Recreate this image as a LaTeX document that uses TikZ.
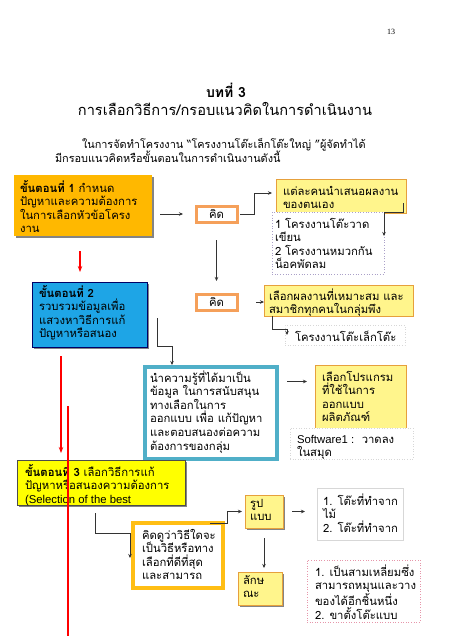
\documentclass[tikz,border=0pt]{standalone}
\usepackage{fontspec}
\setmainfont[Script=Thai]{Loma}
\newfontfamily\lsans{Liberation Sans}
\newfontfamily\lserif{Liberation Serif}
\usetikzlibrary{arrows.meta,shadows}
\definecolor{orangeA}{RGB}{255,184,0}
\definecolor{blueA}{RGB}{30,165,230}
\definecolor{yellowA}{RGB}{255,255,0}
\definecolor{lightY}{RGB}{255,245,140}
\definecolor{lightYb}{RGB}{230,160,60}
\definecolor{kidB}{RGB}{245,160,90}
\definecolor{cyanB}{RGB}{80,175,200}
\definecolor{goldB}{RGB}{255,190,20}
\definecolor{dotB}{RGB}{170,160,200}
\definecolor{faintB}{RGB}{215,215,215}
\definecolor{pinkB}{RGB}{230,150,170}
\newcommand\tx[4]{\node[txt] (#1) at (#2,#3) {\parbox[t]{220pt}{\raggedright\fontsize{11.3}{13.6}\selectfont #4}};}
\begin{document}
\begin{tikzpicture}[x=1pt,y=-1pt,
  every node/.style={inner sep=0pt,outer sep=0pt},
  txt/.style={anchor=base west,inner sep=0pt},
  bx/.style={anchor=north west,inner sep=0pt},
  shd/.style={drop shadow={shadow xshift=2pt,shadow yshift=-2pt,fill=black!60,opacity=0.8}},
  kid/.style={anchor=north west,draw=kidB,line width=3pt,fill=white,minimum width=41pt,minimum height=16pt,font=\fontsize{11.3}{12}\selectfont},
  ly/.style={anchor=north west,draw=lightYb,line width=0.7pt,fill=lightY},
  arr/.style={-{Stealth[length=4pt,width=3.5pt]},line width=0.6pt,black!80},
  redarr/.style={-{Stealth[length=6pt,width=4.5pt]},line width=1.5pt,red},
]
\useasboundingbox (0,0) rectangle (452,640);
\fill[white] (0,0) rectangle (452,640);

% header
\node (pg) at (391,32) {\lserif\fontsize{8}{10}\selectfont 13};
\node (h1) at (226,90) {\fontsize{14}{15}\selectfont\bfseries บทที่ 3};
\node (h2) at (225,109) {\fontsize{14.6}{16}\selectfont การเลือกวิธีการ/กรอบแนวคิดในการดำเนินงาน};
\node[txt] (p1a) at (82,148) {\fontsize{10.9}{13}\selectfont ในการจัดทำโครงงาน “โครงงานโต๊ะเล็กโต๊ะใหญ่ ”ผู้จัดทำได้};
\node[txt] (p1b) at (55,162) {\fontsize{10.9}{13}\selectfont มีกรอบแนวคิดหรือขั้นตอนในการดำเนินงานดังนี้};

% step 1
\node[bx,fill=orangeA,shd,minimum width=138pt,minimum height=61pt] (b1) at (14,175) {};
\begin{scope}
\clip (b1.north west) rectangle (b1.south east);
\tx{t1}{20}{192}{\textbf{ขั้นตอนที่ 1} กำหนด\\ปัญหาและความต้องการ\\ในการเลือกหัวข้อโครง\\งาน}
\end{scope}
\node[kid] (k1) at (196,206) {คิด};
\node[ly,minimum width=130pt,minimum height=34pt] (y1) at (276,179) {};
\tx{t2}{283}{195}{แต่ละคนนำเสนอผลงาน\\ของตนเอง}
\node[bx,draw=dotB,dotted,line width=0.7pt,fill=white,minimum width=112pt,minimum height=62pt] (d1) at (272,212) {};
\tx{t3}{275}{228}{1 โครงงานโต๊ะวาด\\เขียน\\2 โครงงานหมวกกัน\\น็อคพัดลม}

% step 2
\node[bx,fill=blueA,draw=blue!40!black,line width=0.5pt,shd,minimum width=115pt,minimum height=65pt] (b2) at (32,282) {};
\tx{t4}{39}{297}{\textbf{ขั้นตอนที่ 2}\\รวบรวมข้อมูลเพื่อ\\แสวงหาวิธีการแก้\\ปัญหาหรือสนอง}
\node[kid] (k2) at (196,294) {คิด};
\node[ly,minimum width=149pt,minimum height=31pt] (y2) at (264,285) {};
\tx{t5}{269}{300}{เลือกผลงานที่เหมาะสม และ\\สมาชิกทุกคนในกลุ่มพึง}
\node[bx,draw=faintB,dotted,line width=0.6pt,fill=white,minimum width=120pt,minimum height=20pt] (d2) at (285,325) {};
\tx{t6}{295}{341}{โครงงานโต๊ะเล็กโต๊ะ}

\node[bx,draw=cyanB,line width=3.5pt,fill=white,minimum width=132pt,minimum height=92pt] (c1) at (145,367) {};
\tx{t7}{150}{382}{นำความรู้ที่ได้มาเป็น\\ข้อมูล ในการสนับสนุน\\ทางเลือกในการ\\ออกแบบ เพื่อ แก้ปัญหา\\และตอบสนองต่อความ\\ต้องการของกลุ่ม}
\node[ly,minimum width=91pt,minimum height=63pt] (y3) at (315,365) {};
\tx{t8}{322}{381}{เลือกโปรแกรม\\ที่ใช้ในการ\\ออกแบบ\\ผลิตภัณฑ์}
\node[bx,draw=faintB,dotted,line width=0.6pt,fill=white,minimum width=123pt,minimum height=31pt] (d3) at (290,428) {};
\tx{t9}{297}{443}{{\lsans Software1 :}\ \ วาดลง\\ในสมุด}

% step 3
\node[bx,fill=yellowA,draw=black!70,line width=0.6pt,shd,minimum width=168pt,minimum height=45pt] (b3) at (17,460) {};
\begin{scope}
\clip (b3.north west) rectangle (b3.south east);
\tx{t10}{25}{476}{\textbf{ขั้นตอนที่ 3} เลือกวิธีการแก้\\ปัญหาหรือสนองความต้องการ\\{\lsans (Selection of the best}}
\end{scope}
\node[bx,draw=goldB,line width=3.5pt,fill=white,minimum width=90pt,minimum height=65pt] (o1) at (133,523) {};
\tx{t11}{142}{539}{คิดดูว่าวิธีใดจะ\\เป็นวิธีหรือทาง\\เลือกที่ดีที่สุด\\และสามารถ}
\node[ly,shd,minimum width=38pt,minimum height=33pt] (r1) at (245,495) {};
\tx{t12}{250}{507}{รูป\\แบบ}
\node[ly,shd,minimum width=44pt,minimum height=33pt] (r2) at (238,572) {};
\tx{t13}{243}{584}{ลักษ\\ณะ}
\node[bx,draw=faintB,line width=0.5pt,fill=white,minimum width=86pt,minimum height=52pt] (w1) at (317,488) {};
\tx{t14}{323}{505}{1. โต๊ะที่ทำจาก\\ไม้\\2. โต๊ะที่ทำจาก}
\node[bx,draw=pinkB,dotted,line width=0.6pt,fill=white,minimum width=113pt,minimum height=62pt] (q1) at (307,560) {};
\tx{t15}{315}{576}{1. เป็นสามเหลี่ยมซึ่ง\\สามารถหมุนและวาง\\ของได้อีกชิ้นหนึ่ง\\2. ขาตั้งโต๊ะแบบ}

% connectors
\draw[arr] ([xshift=8pt]b1.east |- k1.west) -- ([xshift=-13pt]k1.west);
\draw[arr] ([xshift=3pt]k1.east) -- ++(14,0) |- ([xshift=-4pt,yshift=3pt]y1.west);
\draw[arr] ([xshift=-3pt,yshift=10pt]y1.south east) |- (d1.north east) -- ([yshift=-24pt]d1.north east);
\draw[arr] ([yshift=-18pt]k1.south) -- ([yshift=13pt]k2.north);
\draw[arr] ([xshift=19pt]k2.east) -- (y2.west |- k2.east);
\draw[arr] ([xshift=8pt]y2.south west) -- ++(0,13) -- ++(15,0) -- ++(0,6);
\draw[arr] ([xshift=10pt,yshift=29pt]b2.south east) -- ++(0,28) -| ([xshift=-39pt,yshift=2pt]c1.north);
\coordinate (e8) at ([xshift=-8pt,yshift=15pt]y3.west);
\draw[arr] (c1.east |- e8) ++(10,0) -- (e8);
\draw[arr] ([xshift=78pt,yshift=-8pt]b3.south west) -- ++(0,20) -- ++(35,0) -- ++(0,25);
\draw[arr] ([xshift=-13pt]o1.north east) -- ++(17,0) |- ([xshift=-3pt]r1.west);
\draw[arr] ([yshift=-10pt]r1.south) -- ([yshift=4pt]r2.north -| r1.south);
\draw[arr] ([xshift=9pt]r1.east) -- ([xshift=-12pt]w1.west |- r1.east);

% red arrows
\draw[redarr] ([xshift=66pt,yshift=-15pt]b1.south west) -- ([xshift=48pt,yshift=10pt]b2.north west);
\draw[redarr] ([xshift=29pt,yshift=-9pt]b2.south west) -- ([xshift=44pt,yshift=7pt]b3.north west);
\coordinate (rl1) at (68,406);
\coordinate (rl2) at (68,636);
\draw[red,line width=1.5pt] (rl1) -- (rl2);
\end{tikzpicture}
\end{document}
